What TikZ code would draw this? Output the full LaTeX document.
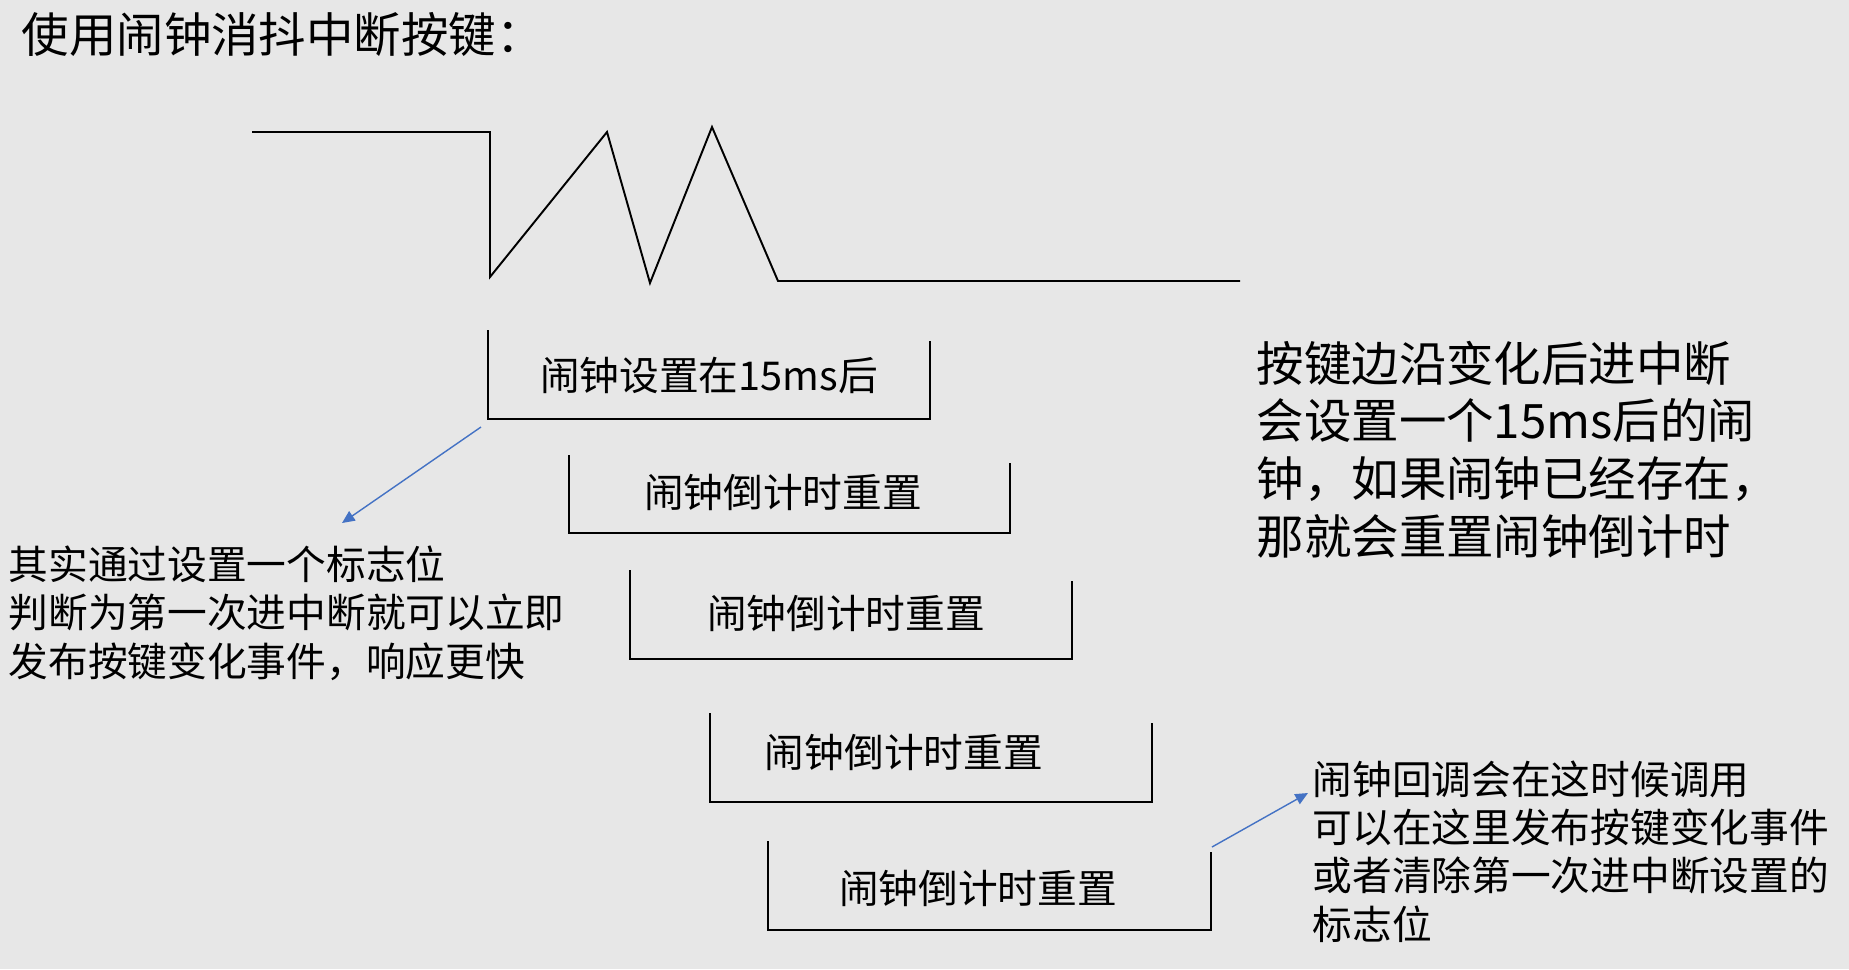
\documentclass[tikz,border=0pt]{standalone}
\usepackage{fontspec}
\newfontfamily\cjk{Noto Sans CJK SC}
\usetikzlibrary{arrows.meta}
\definecolor{bggray}{RGB}{231,231,231}
\definecolor{noteblue}{RGB}{68,114,196}
\tikzset{
  bigtext/.style={font=\cjk\fontsize{13.5}{16.5}\selectfont, inner sep=0pt, align=left, anchor=north west},
  smalltext/.style={font=\cjk\fontsize{11.3}{13.75}\selectfont, inner sep=0pt, align=left, anchor=north west},
  boxtext/.style={font=\cjk\fontsize{11.3}{13.75}\selectfont, inner sep=0pt},
  wave/.style={line width=0.55pt, line join=miter},
  bracket/.style={line width=0.75pt},
  note/.style={noteblue, line width=0.4pt, -{Triangle[length=3.6pt,width=3.2pt]}}
}
\begin{document}
\begin{tikzpicture}
  \useasboundingbox (0,0) rectangle (18.49,-9.69);
  \fill[bggray] (0,0) rectangle (18.49,-9.69);
  % key signal with bouncing
  \draw[wave] (2.52,-1.32) -- (4.90,-1.32) -- (4.90,-2.77) -- (6.07,-1.32)
    -- (6.50,-2.83) -- (7.12,-1.27) -- (7.78,-2.81) -- (12.40,-2.81);
  \draw
    (0.21,-0.12) node[bigtext] (title) {使用闹钟消抖中断按键：}
    (7.09,-3.75) node[boxtext] (t1) {闹钟设置在15ms后}
    (7.83,-4.92) node[boxtext] (t2) {闹钟倒计时重置}
    (8.46,-6.13) node[boxtext] (t3) {闹钟倒计时重置}
    (9.04,-7.52) node[boxtext] (t4) {闹钟倒计时重置}
    (9.78,-8.88) node[boxtext] (t5) {闹钟倒计时重置}
    (12.56,-3.40) node[bigtext] (edge) {按键边沿变化后进中断\\会设置一个15ms后的闹\\钟，如果闹钟已经存在，\\那就会重置闹钟倒计时}
    (0.08,-5.45) node[smalltext] (flag) {其实通过设置一个标志位\\判断为第一次进中断就可以立即\\发布按键变化事件，响应更快}
    (13.12,-7.60) node[smalltext] (callback) {闹钟回调会在这时候调用\\可以在这里发布按键变化事件\\或者清除第一次进中断设置的\\标志位};
  % timer brackets
  \begin{scope}[bracket]
    \draw (4.88,-3.30) -- (4.88,-4.19) -- (9.30,-4.19) -- (9.30,-3.41);
    \draw (5.69,-4.55) -- (5.69,-5.33) -- (10.10,-5.33) -- (10.10,-4.63);
    \draw (6.30,-5.70) -- (6.30,-6.59) -- (10.72,-6.59) -- (10.72,-5.81);
    \draw (7.10,-7.13) -- (7.10,-8.02) -- (11.52,-8.02) -- (11.52,-7.23);
    \draw (7.68,-8.41) -- (7.68,-9.30) -- (12.11,-9.30) -- (12.11,-8.52);
  \end{scope}
  \coordinate (a1) at (4.81,-4.27);
  \coordinate (b1) at (3.42,-5.23);
  \coordinate (a2) at (12.12,-8.47);
  \coordinate (b2) at (13.08,-7.93);
  \begin{scope}[note]
    \draw (a1) to (b1);
    \draw (a2) to (b2);
  \end{scope}
\end{tikzpicture}
\end{document}
